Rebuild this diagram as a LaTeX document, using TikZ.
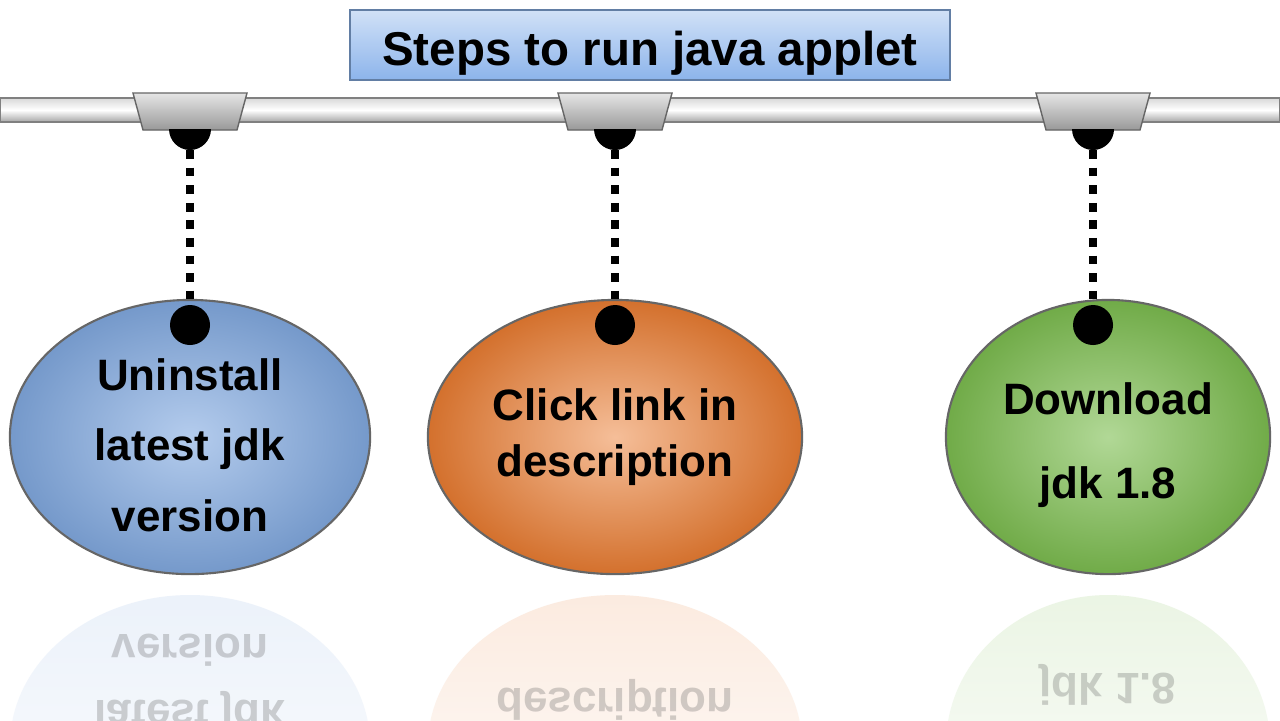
\documentclass[tikz,border=0pt]{standalone}
\usepackage{fontspec}
\setmainfont{Liberation Sans}
\usetikzlibrary{shapes,backgrounds}
\definecolor{blueball}{RGB}{130,170,225}
\definecolor{orangeball}{RGB}{235,125,50}
\definecolor{greenball}{RGB}{125,190,80}
\definecolor{titleblue}{RGB}{140,180,235}
\tikzset{
  ball/.style={ellipse, draw=black!60, line width=0.6pt, inner sep=0pt},
  label/.style={font=\bfseries\fontsize{12.5}{20}\selectfont, align=center},
  clamp/.style={fill=gray!60, draw=gray!80!black},
  hook/.style={fill=black},
  wire/.style={line width=2.2pt, dash pattern=on 2.5pt off 2.5pt},
}
\begin{document}
\begin{tikzpicture}[x=0.01cm,y=-0.01cm]
\useasboundingbox (0,0) rectangle (1280,720);
\clip (0,0) rectangle (1280,720);
\fill[white] (0,0) rectangle (1280,720);
% title
\node[draw=titleblue!70!black, top color=titleblue!40, bottom color=titleblue, minimum width=6cm, minimum height=0.7cm] (title) at (650,45) {};
\node[font=\bfseries\fontsize{13.5}{16}\selectfont] (titletext) at (650,53) {Steps to run java applet};
% bar
\shade[top color=gray!30, bottom color=gray!70, middle color=white, draw=gray] (0,98) rectangle (1280,122);
% hangers
\foreach \x/\n in {190/a,615/b,1093/c}{
  \shade[clamp, top color=gray!20, bottom color=gray!80] (\x-57,93) -- (\x+57,93) -- (\x+47,130) -- (\x-47,130) -- cycle;
  \fill[hook] (\x-21,129) arc (180:0:21 and 21) -- cycle;
  \coordinate (top\n) at (\x,150);
}
% reflections
\begin{scope}[opacity=0.25]
\shade[top color=blueball!60, bottom color=white] (190,745) ellipse (180 and 150);
\shade[top color=orangeball!60, bottom color=white] (615,745) ellipse (187 and 150);
\shade[top color=greenball!60, bottom color=white] (1108,745) ellipse (162 and 150);
\node[label, yscale=-1, text=black!70] at (190,650) {version};
\node[label, yscale=-1, text=black!70] at (190,712) {latest jdk};
\node[label, yscale=-1, text=black!70] at (615,700) {description};
\node[label, yscale=-1, text=black!70] at (1108,685) {jdk 1.8};
\end{scope}
% balls
\node[ball, inner color=blueball!60, outer color=blueball!90!black, minimum width=3.6cm, minimum height=2.74cm] (uninstall) at (190,437) {};
\node[ball, inner color=orangeball!50, outer color=orangeball!90!black, minimum width=3.74cm, minimum height=2.74cm] (click) at (615,437) {};
\node[ball, inner color=greenball!60, outer color=greenball!90!black, minimum width=3.24cm, minimum height=2.74cm] (download) at (1108,437) {};
\node[label] at (190,445) {Uninstall\\latest jdk\\version};
\node[label, font=\bfseries\fontsize{12.5}{16}\selectfont] at (615,437) {Click link in\\description};
\node[label] at (1108,445) {Download\\[4pt]jdk 1.8};
% wires
\foreach \n/\x in {a/190,b/615,c/1093}{
  \fill[hook] (\x,325) circle (20);
  \coordinate (bot\n) at (\x,300);
  \draw[wire] (top\n) -- (bot\n);
}
\end{tikzpicture}
\end{document}
